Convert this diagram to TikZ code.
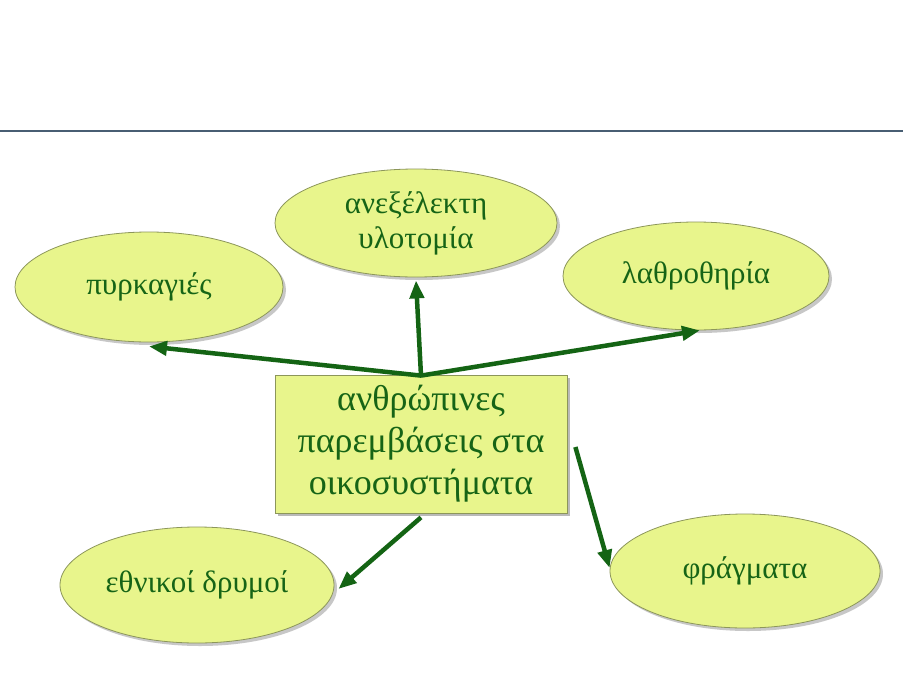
\documentclass[tikz,border=0pt]{standalone}
\usepackage{fontspec}
\setmainfont{Liberation Serif}
\usetikzlibrary{shapes.geometric,shadows,arrows.meta}
\definecolor{fillc}{RGB}{232,245,140}
\definecolor{edgec}{RGB}{140,150,90}
\definecolor{txtc}{RGB}{22,100,22}
\definecolor{arrc}{RGB}{20,100,20}
\definecolor{rulec}{RGB}{72,94,115}
\tikzset{
  bubble/.style={ellipse, draw=edgec, line width=0.8pt, fill=fillc, text=txtc,
    font=\fontsize{31}{35}\selectfont, align=center, inner sep=0pt,
    drop shadow={shadow xshift=3pt, shadow yshift=-3pt, fill=gray!55, opacity=0.8}},
  centerbox/.style={rectangle, draw=edgec, line width=0.8pt, fill=fillc, text=txtc,
    font=\fontsize{36}{42}\selectfont, align=center, inner sep=0pt,
    drop shadow={shadow xshift=3pt, shadow yshift=-3pt, fill=gray!60, opacity=0.9}},
  link/.style={draw=arrc, line width=4.5pt, -{Triangle[length=18pt,width=14pt]}}
}
\begin{document}
\begin{tikzpicture}[x=1pt,y=-1pt]
\useasboundingbox (0,0) rectangle (903,678);
\fill[white] (0,0) rectangle (903,678);
\draw[rulec, line width=2.5pt] (0,131) -- (903,131);

\node[bubble, minimum width=268pt, minimum height=110pt] (fire) at (149,287) {πυρκαγιές};
\node[bubble, minimum width=282pt, minimum height=108pt] (logging) at (416,223) {ανεξέλεκτη\\υλοτομία};
\node[bubble, minimum width=266pt, minimum height=108pt] (hunt) at (696,276) {λαθροθηρία};
\node[bubble, minimum width=274pt, minimum height=116pt] (parks) at (197,585) {εθνικοί δρυμοί};
\node[bubble, minimum width=270pt, minimum height=114pt] (dams) at (745,571) {φράγματα};

\node[centerbox, minimum width=292pt, minimum height=138pt] (box) at (421,444) {ανθρώπινες\\παρεμβάσεις στα\\οικοσυστήματα};

\coordinate (top) at ([yshift=-1pt]box.north);
\coordinate (rside) at ([xshift=8pt,yshift=-3pt]box.east);
\coordinate (bot) at ([yshift=-4pt]box.south);

\draw[link] (top) -- ([yshift=-4pt]fire.south);
\draw[link] (top) -- ([yshift=-3pt]logging.south);
\draw[link] (top) -- ([xshift=4pt]hunt.south);
\draw[link] (rside) -- ([yshift=3pt]dams.west);
\draw[link] (bot) -- ([xshift=4pt,yshift=-4pt]parks.east);
\end{tikzpicture}
\end{document}
